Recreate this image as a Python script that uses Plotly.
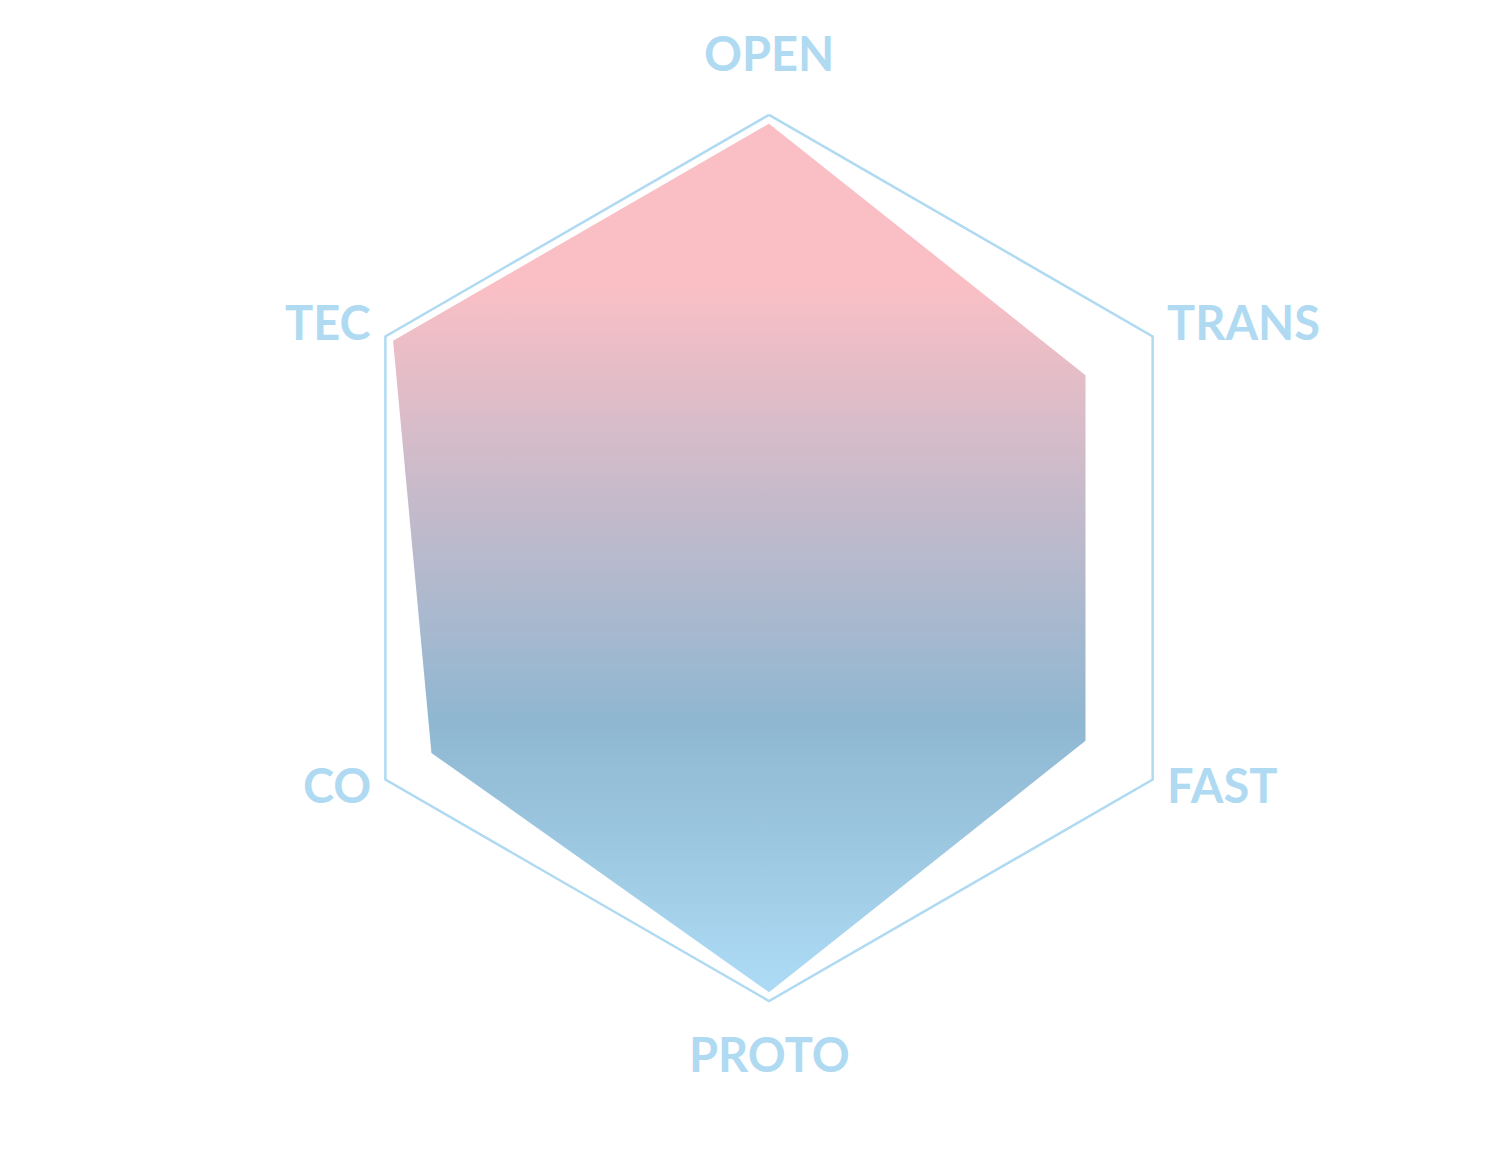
import numpy as np
import plotly.graph_objects as go

categories = ["OPEN", "TRANS", "FAST", "PROTO", "CO", "TEC"]
scores = [98, 82.5, 82.5, 98, 88, 98]
max_score = 100

label_color = "#B0DAF2"

# angles clockwise from the top, like a radar chart
angles = np.deg2rad(np.arange(len(categories)) * 360 / len(categories))


def to_xy(values):
    r = np.array(values, dtype=float)
    x = r * np.sin(angles)
    y = r * np.cos(angles)
    # close the polygon
    return np.append(x, x[0]), np.append(y, y[0])


fig = go.Figure()

# data polygon with a vertical gradient
sx, sy = to_xy(scores)
fig.add_trace(go.Scatter(
    x=sx, y=sy,
    mode="lines",
    line=dict(width=0),
    fill="toself",
    fillgradient=dict(
        type="vertical",
        colorscale=[
            [0.0, "#ADDBF5"],
            [0.31, "#8FB7D1"],
            [0.55, "#C2BACB"],
            [0.81, "#F9BFC5"],
            [1.0, "#F9BFC5"],
        ],
    ),
    hoverinfo="skip",
    showlegend=False,
))

# outer hexagon
hx, hy = to_xy([max_score] * len(categories))
fig.add_trace(go.Scatter(
    x=hx, y=hy,
    mode="lines",
    line=dict(color=label_color, width=2.5),
    hoverinfo="skip",
    showlegend=False,
))

# axis labels
for cat, a in zip(categories, angles):
    s = np.sin(a)
    c = np.cos(a)
    if abs(s) < 0.01:
        r = 113.5
        xanchor = "center"
    else:
        r = 103.2
        xanchor = "left" if s > 0 else "right"
    # text sits a little low with yanchor=middle, nudge it up
    shift = 7 if c < -0.9 or 0 < c < 0.9 else 2
    fig.add_annotation(
        x=r * s, y=r * c,
        text=f"<b>{cat}</b>",
        showarrow=False,
        xanchor=xanchor, yanchor="middle",
        yshift=shift,
        font=dict(family="Lato", size=47, color=label_color),
    )

fig.update_layout(
    width=1503, height=1173,
    margin=dict(l=0, r=0, t=0, b=0),
    paper_bgcolor="white",
    plot_bgcolor="white",
    showlegend=False,
)
fig.update_xaxes(range=[-171.8, 167.5], visible=False)
fig.update_yaxes(range=[-140.6, 124.1], visible=False)

fig.write_html("out.html")
